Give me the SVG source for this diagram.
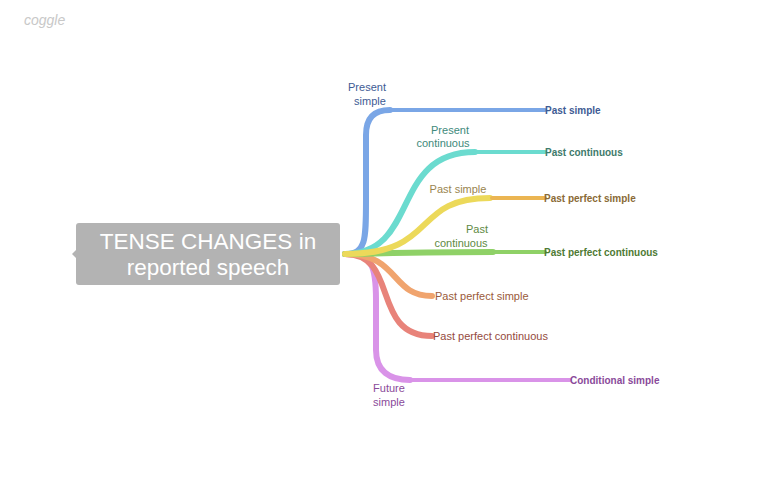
<svg xmlns="http://www.w3.org/2000/svg" width="768" height="502" viewBox="0 0 768 502">
<style>
text{font-family:"Liberation Sans",Arial,sans-serif}
.c{fill:none;stroke-linecap:round}
.l{font-size:11px;text-anchor:middle}
.b{font-size:10px;font-weight:bold}
.n{font-size:11px}
</style>
<rect width="768" height="502" fill="#fff"/>
<text x="24" y="25" font-size="14" font-style="italic" fill="#c8c8c8" font-family="Liberation Sans,sans-serif">coggle</text>
<g id="connectors">
<path class="c" stroke="#d993e8" stroke-width="6" d="M345,254 C372,254 376,265 376,300 L376,350 C376,372 390,380 410,380"/>
<path class="c" stroke="#d993e8" stroke-width="4" d="M412,380 L570,380"/>
<path class="c" stroke="#e8837a" stroke-width="6" d="M345,254 C400,254 370,336 432,336"/>
<path class="c" stroke="#f0a46e" stroke-width="6" d="M345,254 C400,254 390,296 432,296"/>
<path class="c" stroke="#7aa6e6" stroke-width="6" d="M345,254 C366,254 366,240 366,200 L366,135 C366,118 374,110 390,110"/>
<path class="c" stroke="#7aa6e6" stroke-width="4" d="M392,110 L545,110"/>
<path class="c" stroke="#6bdbcf" stroke-width="6" d="M345,254 C420,254 390,152 475,152"/>
<path class="c" stroke="#6bdbcf" stroke-width="4" d="M477,152 L545,152"/>
<path class="c" stroke="#8fd167" stroke-width="6" d="M345,254 C400,253 440,252 493,252"/>
<path class="c" stroke="#8fd167" stroke-width="4" d="M495,252 L545,252"/>
<path class="c" stroke="#ecd95a" stroke-width="6" d="M345,254 C440,254 410,198 490,198"/>
<path class="c" stroke="#ebb552" stroke-width="4" d="M492,198 L545,198"/>
</g>
<g id="root">
<rect x="76" y="223" width="264" height="62" rx="3" fill="#b3b3b3"/>
<path d="M76,250 L72,254 L76,258 Z" fill="#b3b3b3"/>
<text x="208" y="249" font-size="22.5" fill="#fff" text-anchor="middle">TENSE CHANGES in</text>
<text x="208" y="275" font-size="22.5" fill="#fff" text-anchor="middle">reported speech</text>
</g>
<g id="present-simple" fill="#3e5b94"><text class="l" x="367" y="91">Present</text><text class="l" x="370" y="105">simple</text><text class="b" x="545" y="114">Past simple</text></g>
<g id="present-continuous" fill="#3e8a7b"><text class="l" x="450" y="134">Present</text><text class="l" x="443" y="147">continuous</text><text class="b" x="545" y="156" fill="#3e7a6b">Past continuous</text></g>
<g id="past-simple"><text class="l" x="458" y="193" fill="#9a8550">Past simple</text><text class="b" x="544" y="202" fill="#8a6a36">Past perfect simple</text></g>
<g id="past-continuous"><text class="l" x="477" y="233" fill="#5e8a44">Past</text><text class="l" x="461" y="247" fill="#5e8a44">continuous</text><text class="b" x="544" y="256" fill="#4e7a34">Past perfect continuous</text></g>
<g id="pps"><text class="n" x="435" y="300" fill="#9a5a3a">Past perfect simple</text></g>
<g id="ppc"><text class="n" x="433" y="340" fill="#954a40">Past perfect continuous</text></g>
<g id="future-simple" fill="#8a4a9a"><text class="l" x="389" y="392">Future</text><text class="l" x="389" y="406">simple</text><text class="b" x="570" y="384">Conditional simple</text></g>
</svg>
